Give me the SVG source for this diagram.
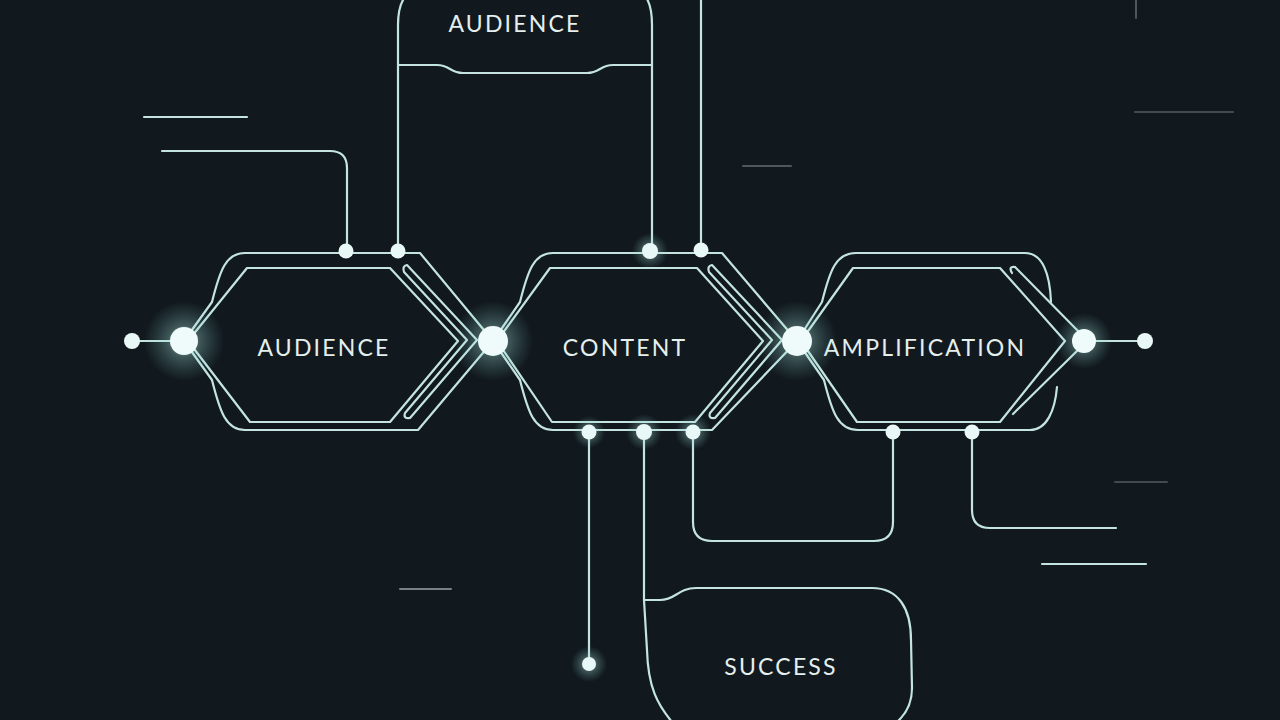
<svg xmlns="http://www.w3.org/2000/svg" width="1280" height="720" viewBox="0 0 1280 720">
<defs>
<style>
.ln{fill:none;stroke:#c3e4e0;stroke-width:2.2;stroke-linecap:round;stroke-linejoin:round}
.fa{fill:none;stroke:#9aa6a8;stroke-width:2;stroke-linecap:round}
.lbl{font-family:"Lato","Noto Sans",sans-serif;font-size:23px;fill:#e4efee;letter-spacing:2.2px;text-anchor:middle}
.nd{fill:#e8f8f7}
.big{fill:#eefbfa}
</style>
<radialGradient id="glow">
<stop offset="0" stop-color="#e0fffb" stop-opacity="0.75"/>
<stop offset="0.4" stop-color="#a8e6de" stop-opacity="0.3"/>
<stop offset="1" stop-color="#6fc0b8" stop-opacity="0"/>
</radialGradient>
<radialGradient id="glowS">
<stop offset="0" stop-color="#d8fffb" stop-opacity="0.5"/>
<stop offset="1" stop-color="#6fc0b8" stop-opacity="0"/>
</radialGradient>
</defs>
<rect width="1280" height="720" fill="#12191e"/>

<g id="connectors">
<path class="ln" d="M162,151 L330,151 Q347,151 347,168 L347,251"/>
<path class="ln" d="M144,117 L247,117"/>
<path class="ln" d="M701,0 L701,251"/>
<path class="ln" d="M132,341 L184,341"/>
<path class="ln" d="M1084,341 L1145,341"/>
<path class="ln" d="M589,432 L589,664"/>
<path class="ln" d="M644,432 L644,600"/>
<path class="ln" d="M693,432 L693,522 Q693,541 712,541 L874,541 Q893,541 893,522 L893,432"/>
<path class="ln" d="M972,432 L972,510 Q972,528 990,528 L1116,528"/>
<path class="ln" d="M1042,564 L1146,564"/>
<path class="fa" d="M743,166 L791,166" opacity="0.45"/>
<path class="fa" d="M400,589 L451,589" opacity="0.75"/>
<path class="fa" d="M1115,482 L1167,482" opacity="0.35"/>
<path class="fa" d="M1135,112 L1233,112" opacity="0.35"/>
<path class="fa" d="M1136,0 L1136,18" opacity="0.45"/>
</g>

<g id="audience-top">
<path class="ln" d="M398,251 L398,25 C398,-5 410,-15 440,-15 L612,-15 C642,-15 652,-5 652,25 L652,251"/>
<path class="ln" d="M398,65 L437,65 C450,65 450,73 463,73 L587,73 C600,73 600,65 613,65 L652,65"/>
<text class="lbl" x="515" y="32">AUDIENCE</text>
</g>

<g id="success">
<path class="ln" d="M644,600 L660,600 C676,600 678,588 696,588 L872,588 C898,588 911,608 911,640 L912,688 C912,704 906,714 897,722"/>
<path class="ln" d="M644,600 L647,650 C648,688 658,705 672,722"/>
<text class="lbl" x="781" y="675">SUCCESS</text>
</g>

<g id="hex-audience">
<path class="ln" d="M188,341 L247,268 L390,268 L458,341 L390,422 L250,422 Z"/>
<path class="ln" d="M184,341 L212,302 C220,270 226,253 245,253 L420,253 L493,341"/>
<path class="ln" d="M184,341 L212,380 C220,412 226,430 245,430 L418,430 L493,341"/>
<path class="ln" d="M407,265 L477,340 L410,418 Q403,419 405,413 L467,340 L404,272 Q402,266 407,265 Z"/>
<text class="lbl" x="324" y="356">AUDIENCE</text>
</g>

<g id="hex-content">
<path class="ln" d="M497,341 L550,268 L697,268 L763,341 L695,422 L552,422 Z"/>
<path class="ln" d="M493,341 L520,302 C528,270 534,253 553,253 L722,253 L797,341"/>
<path class="ln" d="M493,341 L520,380 C528,412 534,430 553,430 L712,430 L797,341"/>
<path class="ln" d="M712,265 L782,340 L715,418 Q708,419 710,413 L772,340 L709,272 Q707,266 712,265 Z"/>
<text class="lbl" x="625" y="356">CONTENT</text>
</g>

<g id="hex-amplification">
<path class="ln" d="M801,341 L853,268 L1000,268 L1065,341 L1000,422 L857,422 Z"/>
<path class="ln" d="M797,341 L822,302 C830,270 836,253 856,253 L1025,253 C1043,253 1050,275 1051,302"/>
<path class="ln" d="M797,341 L824,380 C832,412 838,430 858,430 L1030,430 C1047,430 1055,410 1057,387"/>
<path class="ln" d="M1015,267 L1080,333"/>
<path class="ln" d="M1012,273 Q1008,266 1015,267"/>
<path class="ln" d="M1013,414 L1078,350"/>
<text class="lbl" x="925" y="356">AMPLIFICATION</text>
</g>

<g id="nodes">
<circle cx="184" cy="341" r="40" fill="url(#glow)"/>
<circle cx="493" cy="341" r="40" fill="url(#glow)"/>
<circle cx="797" cy="341" r="40" fill="url(#glow)"/>
<circle cx="1084" cy="341" r="28" fill="url(#glow)"/>
<circle cx="644" cy="432" r="18" fill="url(#glowS)"/>
<circle cx="693" cy="432" r="18" fill="url(#glowS)"/>
<circle cx="589" cy="432" r="16" fill="url(#glowS)"/>
<circle cx="650" cy="251" r="18" fill="url(#glowS)"/>
<circle cx="589" cy="664" r="18" fill="url(#glowS)"/>
<circle class="big" cx="184" cy="341" r="14"/>
<circle class="big" cx="493" cy="341" r="15"/>
<circle class="big" cx="797" cy="341" r="15"/>
<circle class="big" cx="1084" cy="341" r="12"/>
<circle class="nd" cx="132" cy="341" r="8"/>
<circle class="nd" cx="1145" cy="341" r="8"/>
<circle class="nd" cx="346" cy="251" r="7.5"/>
<circle class="nd" cx="398" cy="251" r="7.5"/>
<circle class="nd" cx="650" cy="251" r="8"/>
<circle class="nd" cx="701" cy="250" r="7.5"/>
<circle class="nd" cx="589" cy="432" r="7.5"/>
<circle class="nd" cx="644" cy="432" r="8"/>
<circle class="nd" cx="693" cy="432" r="7.5"/>
<circle class="nd" cx="893" cy="432" r="7.5"/>
<circle class="nd" cx="972" cy="432" r="7.5"/>
<circle class="nd" cx="589" cy="664" r="7"/>
</g>
</svg>
